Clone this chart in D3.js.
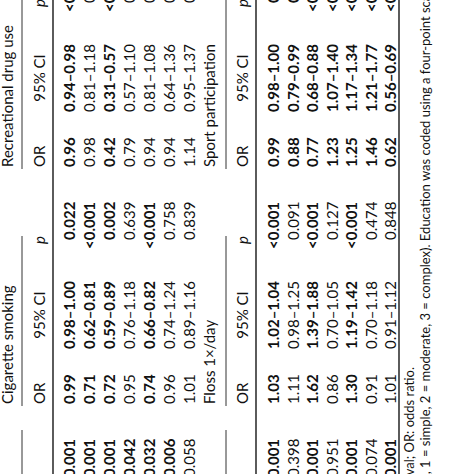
<!DOCTYPE html>
<html><head><meta charset="utf-8">
<script src="https://cdn.jsdelivr.net/npm/d3@7"></script>
<style>body{margin:0;background:#fff}</style>
</head><body>
<script>
// Table is printed rotated 90° (reads bottom to top)
var groupsTop = ["Cigarette smoking", "Recreational drug use"];
var groupsBottom = ["Floss 1\u00d7/day", "Sport participation"];
var headers = ["OR", "95% CI", "p"];

// previous (cut-off) block p values
var prevTopP = ["<0.001", "<0.001", "<0.001", "0.042", "0.032", "0.006", "0.058"];
var prevTopBold = [1, 1, 1, 1, 1, 1, 0];
var prevBotP = ["<0.001", "0.398", "<0.001", "0.951", "<0.001", "0.074", "<0.001"];
var prevBotBold = [1, 0, 1, 0, 1, 0, 1];

var cigOR = ["0.99", "0.71", "0.72", "0.95", "0.74", "0.96", "1.01"];
var cigCI = ["0.98\u20131.00", "0.62\u20130.81", "0.59\u20130.89", "0.76\u20131.18", "0.66\u20130.82", "0.74\u20131.24", "0.89\u20131.16"];
var cigP = ["0.022", "<0.001", "0.002", "0.639", "<0.001", "0.758", "0.839"];
var cigBold = [1, 1, 1, 0, 1, 0, 0];

var drugOR = ["0.96", "0.98", "0.42", "0.79", "0.94", "0.94", "1.14"];
var drugCI = ["0.94\u20130.98", "0.81\u20131.18", "0.31\u20130.57", "0.57\u20131.10", "0.81\u20131.08", "0.64\u20131.36", "0.95\u20131.37"];
var drugP = ["<0.001", "0.862", "<0.001", "0.165", "0.421", "0.655", "0.168"];
var drugBold = [1, 0, 1, 0, 0, 0, 0];

var flossOR = ["1.03", "1.11", "1.62", "0.86", "1.30", "0.91", "1.01"];
var flossCI = ["1.02\u20131.04", "0.98\u20131.25", "1.39\u20131.88", "0.70\u20131.05", "1.19\u20131.42", "0.70\u20131.18", "0.91\u20131.12"];
var flossP = ["<0.001", "0.091", "<0.001", "0.127", "<0.001", "0.474", "0.848"];
var flossBold = [1, 0, 1, 0, 1, 0, 0];

var sportOR = ["0.99", "0.88", "0.77", "1.23", "1.25", "1.46", "0.62"];
var sportCI = ["0.98\u20131.00", "0.79\u20130.99", "0.68\u20130.88", "1.07\u20131.40", "1.17\u20131.34", "1.21\u20131.77", "0.56\u20130.69"];
var sportP = ["0.012", "0.031", "<0.001", "<0.001", "<0.001", "<0.001", "<0.001"];
var sportBold = [1, 1, 1, 1, 1, 1, 1];

var notes = [
  "Abbreviations: CI: confidence interval; OR: odds ratio.",
  "nt, 1 = simple, 2 = moderate, 3 = complex). Education was coded using a four-point scale (e.g."
];

var W = 474, H = 474;
var svg = d3.select("body").append("svg").attr("width", W).attr("height", H)
  .style("font-family", "Lato, 'Open Sans', sans-serif");

// row positions (screen x) for top and bottom halves
var rowTop = d3.scalePoint().domain(d3.range(7)).range([70, 190]);
var rowBot = d3.scalePoint().domain(d3.range(7)).range([274, 391]);

// column positions (screen y) inside a block; blocks repeat every 237px
var blockStep = 237;
var colOR = 404, colCI = 315, colP = 240;

var fs = 15, grey = "#333";

function txt(x, y, s, opt) {
  opt = opt || {};
  svg.append("text")
    .attr("transform", "translate(" + x + "," + y + ") rotate(-90)")
    .attr("dy", "0.35em")
    .attr("text-anchor", opt.anchor || "start")
    .attr("font-size", opt.size || fs)
    .attr("font-weight", opt.bold ? "bold" : "normal")
    .attr("font-style", opt.italic ? "italic" : "normal")
    .attr("fill", "#111")
    .text(s);
}

function pText(x, y, s, bold) {
  // digits aligned; "<" hangs below
  txt(x, s.charAt(0) == "<" ? y + 9 : y, s, {bold: bold});
}

function vline(x, y1, y2, w) {
  svg.append("line").attr("x1", x).attr("x2", x).attr("y1", y1).attr("y2", y2)
    .attr("stroke", grey).attr("stroke-width", w || 1);
}

function block(rows, off, title, or, ci, p, bold, tx, sx, hx) {
  txt(tx, colOR + off, title);
  vline(sx, colP - 4 + off, colOR + 2 + off, 1);
  txt(hx, colOR + off, headers[0]);
  txt(hx, colCI + off, headers[1], {anchor: "middle"});
  txt(hx, colP + 4 + off, headers[2], {italic: true});
  d3.range(7).forEach(function(i) {
    var x = rows(i);
    txt(x, colOR + off, or[i], {bold: bold[i]});
    txt(x, colCI + off, ci[i], {anchor: "middle", bold: bold[i]});
    pText(x, colP + off, p[i], bold[i]);
  });
}

// previous block tails
vline(22, 430, 480, 1);
d3.range(7).forEach(function(i) {
  pText(rowTop(i), colP + blockStep, prevTopP[i], prevTopBold[i]);
  pText(rowBot(i), colP + blockStep, prevBotP[i], prevBotBold[i]);
});
vline(226, 430, 480, 1);

block(rowTop, 0, groupsTop[0], cigOR, cigCI, cigP, cigBold, 8, 22, 40);
block(rowTop, -blockStep, groupsTop[1], drugOR, drugCI, drugP, drugBold, 8, 22, 40);
block(rowBot, 0, groupsBottom[0], flossOR, flossCI, flossP, flossBold, 210, 226, 243);
block(rowBot, -blockStep, groupsBottom[1], sportOR, sportCI, sportP, sportBold, 210, 226, 243);

// long rules
vline(53, 0, H, 1.6);
vline(256, 0, H, 1.6);
vline(399, 0, H, 1.6);

// footnotes
txt(409, 367, notes[0], {anchor: "end", size: 13});
txt(425, 486, notes[1], {size: 13});
</script>
</body></html>
